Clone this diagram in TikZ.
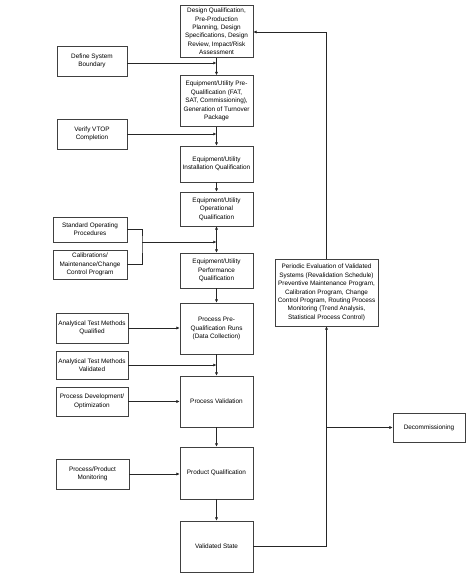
\documentclass[tikz,border=0pt]{standalone}
\usepackage{fontspec}
\setmainfont{Liberation Sans}
\usetikzlibrary{arrows.meta}
\begin{document}
\begin{tikzpicture}[x=1pt,y=-1pt,
  box/.style={draw=black!75,line width=0.8pt,fill=white,align=center,inner sep=1pt,
    font=\fontsize{6.4}{8.4}\selectfont},
  conn/.style={draw=black!85,line width=0.7pt},
  arr/.style={conn,-{Latex[length=3.2pt,width=3.2pt]}},
  darr/.style={conn,{Latex[length=3.2pt,width=3.2pt]}-{Latex[length=3.2pt,width=3.2pt]}}]
\useasboundingbox (0,0) rectangle (474,578);
% central column
\node[box,minimum width=73pt,minimum height=52pt] (dq) at (216.5,31.5) {Design Qualification,\\Pre-Production\\Planning, Design\\Specifications, Design\\Review, Impact/Risk\\Assessment};
\node[box,minimum width=73pt,minimum height=51pt] (epq) at (216.5,101) {Equipment/Utility Pre-\\Qualification (FAT,\\SAT, Commissioning),\\Generation of Turnover\\Package};
\node[box,minimum width=73pt,minimum height=36pt] (iq) at (216.5,164) {Equipment/Utility\\Installation Qualification};
\node[box,minimum width=73pt,minimum height=34pt] (oq) at (216.5,209) {Equipment/Utility\\Operational\\Qualification};
\node[box,minimum width=73pt,minimum height=35pt] (pq) at (216.5,270.5) {Equipment/Utility\\Performance\\Qualification};
\node[box,minimum width=73pt,minimum height=51pt] (ppq) at (216.5,328.5) {Process Pre-\\Qualification Runs\\(Data Collection)};
\node[box,minimum width=73pt,minimum height=51pt] (pv) at (216.5,401.5) {Process Validation};
\node[box,minimum width=73pt,minimum height=52pt] (prq) at (216.5,473) {Product Qualification};
\node[box,minimum width=73pt,minimum height=51pt] (vs) at (216.5,546.5) {Validated State};
% left column
\node[box,minimum width=70pt,minimum height=30pt] (dsb) at (92,61) {Define System\\Boundary};
\node[box,minimum width=70pt,minimum height=30pt] (vtop) at (92,134) {Verify VTOP\\Completion};
\node[box,minimum width=74pt,minimum height=25pt] (sop) at (90,229.5) {Standard Operating\\Procedures};
\node[box,minimum width=74pt,minimum height=29pt] (cal) at (90,264.5) {Calibrations/\\Maintenance/Change\\Control Program};
\node[box,minimum width=72pt,minimum height=30pt] (atmq) at (92,328) {Analytical Test Methods\\Qualified};
\node[box,minimum width=72pt,minimum height=28pt] (atmv) at (92,365) {Analytical Test Methods\\Validated};
\node[box,minimum width=72pt,minimum height=29pt] (pdo) at (92,401.5) {Process Development/\\Optimization};
\node[box,minimum width=73pt,minimum height=30pt] (ppm) at (92.5,474) {Process/Product\\Monitoring};
% right column
\node[box,minimum width=103pt,minimum height=67pt] (pe) at (326.5,292.5) {Periodic Evaluation of Validated\\Systems (Revalidation Schedule)\\Preventive Maintenance Program,\\Calibration Program, Change\\Control Program, Routing Process\\Monitoring (Trend Analysis,\\Statistical Process Control)};
\node[box,minimum width=72pt,minimum height=29pt] (dec) at (429,427.5) {Decommissioning};
% helper coordinates
\coordinate (j1) at (216.5,63);
\coordinate (j2) at (216.5,134);
\coordinate (bk) at (142,242);
\coordinate (j3) at (216.5,242);
\coordinate (j4) at (216.5,365);
\coordinate (r1) at (326.5,546.5);
\coordinate (r2) at (326.5,427.5);
\coordinate (r3) at (326.5,32);
% vertical flow
\draw[arr] (dq.south) -- (epq.north);
\draw[arr] (epq.south) -- (iq.north);
\draw[arr] (iq.south) -- (oq.north);
\draw[darr] (oq.south) -- (pq.north);
\draw[arr] (pq.south) -- (ppq.north);
\draw[arr] (ppq.south) -- (pv.north);
\draw[arr] (pv.south) -- (prq.north);
\draw[arr] (prq.south) -- (vs.north);
% left inputs
\draw[arr] (dsb.east |- j1) -- (j1);
\draw[arr] (vtop.east) -- (j2);
\draw[conn] (sop.east) -| (bk) |- (cal.east);
\draw[arr] (bk) -- (j3);
\draw[arr] (atmq.east) -- (ppq.west |- atmq.east);
\draw[arr] (atmv.east) -- (j4);
\draw[arr] (pdo.east) -- (pv.west |- pdo.east);
\draw[arr] (ppm.east) -- (prq.west |- ppm.east);
% feedback loop
\draw[arr] (vs.east) -- (r1) -- (pe.south);
\draw[arr] (r2) -- (dec.west);
\draw[arr] (pe.north) -- (r3) -- (dq.east |- r3);
\end{tikzpicture}
\end{document}
